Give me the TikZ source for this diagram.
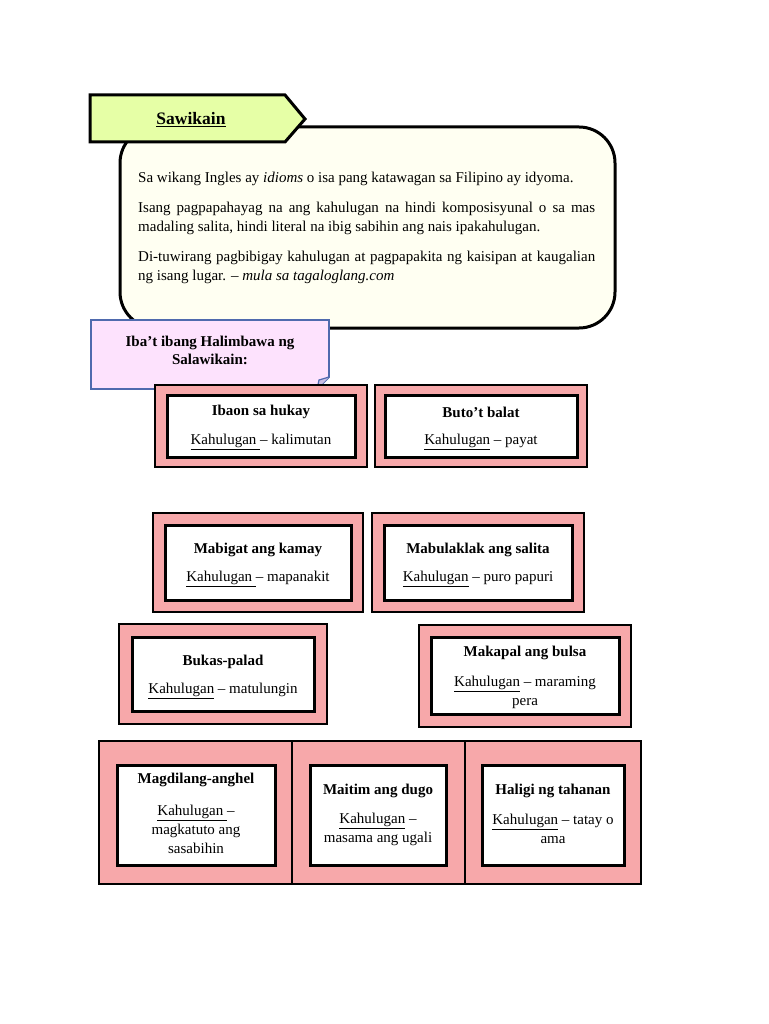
\documentclass[tikz,border=0pt]{standalone}
\usepackage{fontspec}
\setmainfont{Liberation Serif}
\definecolor{pinkf}{HTML}{F7A8AA}
\definecolor{tabg}{HTML}{E6FFA6}
\definecolor{cream}{HTML}{FFFFF2}
\definecolor{calf}{HTML}{FDE2FD}
\definecolor{calb}{HTML}{4F6AAE}
\begin{document}
\begin{tikzpicture}[x=1pt,y=-1pt,
  outerbox/.style={draw=black,line width=2.5pt,fill=pinkf},
  innerbox/.style={draw=black,line width=3pt,fill=white},
  ttl/.style={font=\fontsize{15}{18}\selectfont\bfseries,align=center},
  mean/.style={font=\fontsize{15}{19}\selectfont,align=center}]
\useasboundingbox (0,0) rectangle (768,1024);
% rounded box
\draw[line width=3pt,fill=cream,rounded corners=36pt] (120,127) rectangle (615,328);
% tab
\draw[line width=3pt,fill=tabg] (90,95) -- (285,95) -- (305,119) -- (285,142) -- (90,142) -- cycle;
\node[font=\fontsize{17.5}{19}\selectfont\bfseries] (tab) at (191,120) {\underline{Sawikain}};
\node[anchor=north west,text width=457pt,align=justify,font=\fontsize{15}{19}\selectfont,inner sep=0pt] (def) at (138,172) {%
\hyphenpenalty=10000\exhyphenpenalty=10000
Sa wikang Ingles ay \textit{idioms} o isa pang katawagan sa Filipino ay idyoma.\par\vspace{11pt}
Isang pagpapahayag na ang kahulugan na hindi komposisyunal o sa mas\linebreak madaling salita, hindi literal na ibig sabihin ang nais ipakahulugan.\par\vspace{11pt}
Di-tuwirang pagbibigay kahulugan at pagpapakita ng kaisipan at kaugalian\linebreak ng isang lugar. -- \textit{mula sa tagaloglang.com}};
% callout
\draw[line width=1.8pt,draw=calb,fill=calf] (91,320) -- (329,320) -- (329,377) -- (317,389) -- (91,389) -- cycle;
\draw[line width=1.2pt,draw=calb,fill=calf!70!calb] (329,377) -- (319,380) -- (317,389);
\node[ttl] (cal) at (210,350) {Iba't ibang Halimbawa ng\\Salawikain:};
% row 1
\draw[outerbox] (155,385) rectangle (367,467); \draw[innerbox] (167,395) rectangle (355,457);
\node[ttl] (t1) at (261,412) {Ibaon sa hukay};
\node[mean] (m1) at (261,442) {\underline{Kahulugan }-- kalimutan};
\draw[outerbox] (375,385) rectangle (587,467); \draw[innerbox] (385,395) rectangle (577,457);
\node[ttl] (t2) at (481,412) {Buto't balat};
\node[mean] (m2) at (481,442) {\underline{Kahulugan} -- payat};
% row 2
\draw[outerbox] (153,513) rectangle (363,612); \draw[innerbox] (165,525) rectangle (351,600);
\node[ttl] (t3) at (258,550) {Mabigat ang kamay};
\node[mean] (m3) at (258,579) {\underline{Kahulugan }-- mapanakit};
\draw[outerbox] (372,513) rectangle (584,612); \draw[innerbox] (384,525) rectangle (572,600);
\node[ttl] (t4) at (478,550) {Mabulaklak ang salita};
\node[mean] (m4) at (478,579) {\underline{Kahulugan} -- puro papuri};
% row 3
\draw[outerbox] (119,624) rectangle (327,724); \draw[innerbox] (132,637) rectangle (314,711);
\node[ttl] (t5) at (223,662) {Bukas-palad};
\node[mean] (m5) at (223,691) {\underline{Kahulugan} -- matulungin};
\draw[outerbox] (419,625) rectangle (631,727); \draw[innerbox] (431,637) rectangle (619,714);
\node[ttl] (t6) at (525,653) {Makapal ang bulsa};
\node[mean] (m6) at (525,692) {\underline{Kahulugan} -- maraming\\pera};
% row 4
\draw[outerbox] (99,741) rectangle (641,884);
\draw[line width=2.5pt] (292,741) -- (292,884) (465,741) -- (465,884);
\draw[innerbox] (117,765) rectangle (275,865);
\draw[innerbox] (310,765) rectangle (446,865);
\draw[innerbox] (482,765) rectangle (624,865);
\node[ttl] (t7) at (196,780) {Magdilang-anghel};
\node[mean] (m7) at (196,829) {\underline{Kahulugan }--\\magkatuto ang\\sasabihin};
\node[ttl] (t8) at (378,791) {Maitim ang dugo};
\node[mean] (m8) at (378,829) {\underline{Kahulugan} --\\masama ang ugali};
\node[ttl] (t9) at (553,791) {Haligi ng tahanan};
\node[mean] (m9) at (553,829) {\underline{Kahulugan} -- tatay o\\ama};
\end{tikzpicture}
\end{document}
